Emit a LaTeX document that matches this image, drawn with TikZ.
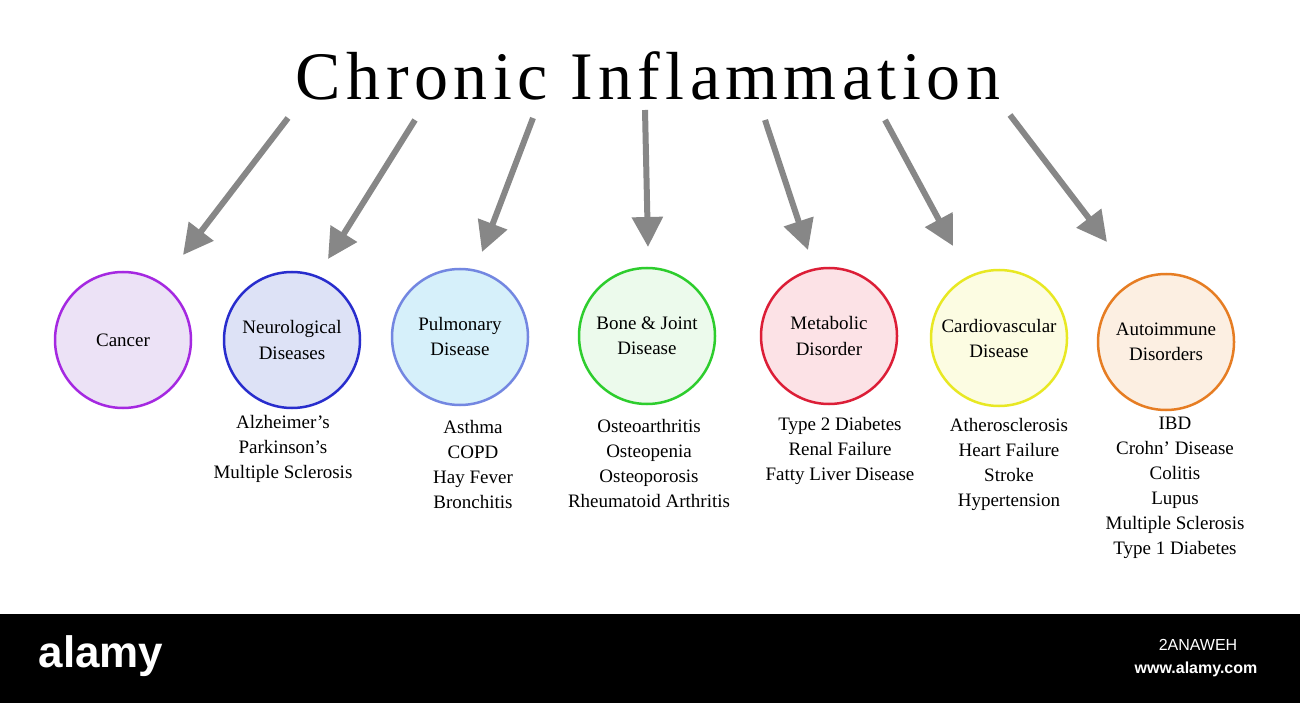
\documentclass[tikz,border=0pt]{standalone}
\usepackage{fontspec}
\setmainfont{Liberation Serif}
\newfontfamily\alsans{Liberation Sans}
\usetikzlibrary{arrows.meta}
\definecolor{cAb}{RGB}{165,40,225}\definecolor{cAf}{RGB}{236,226,246}
\definecolor{cBb}{RGB}{40,45,205}\definecolor{cBf}{RGB}{221,226,246}
\definecolor{cCb}{RGB}{115,135,225}\definecolor{cCf}{RGB}{214,240,250}
\definecolor{cDb}{RGB}{45,205,45}\definecolor{cDf}{RGB}{236,250,236}
\definecolor{cEb}{RGB}{220,30,55}\definecolor{cEf}{RGB}{252,226,230}
\definecolor{cFb}{RGB}{232,232,35}\definecolor{cFf}{RGB}{252,252,226}
\definecolor{cGb}{RGB}{230,125,35}\definecolor{cGf}{RGB}{252,239,226}
\definecolor{arrg}{RGB}{135,135,135}
\tikzset{
 circ/.style={circle,minimum size=136pt,line width=2.5pt,align=center,font=\fontsize{19}{25}\selectfont,inner sep=0pt},
 lst/.style={align=center,anchor=north,font=\fontsize{19}{25}\selectfont,inner sep=0pt},
 arr/.style={arrg,line width=6pt,-{Triangle[length=30pt,width=30pt]}}
}
\begin{document}
\begin{tikzpicture}[x=1pt,y=-1pt]
\useasboundingbox (0,0) rectangle (1300,703);
\fill[white] (0,0) rectangle (1300,703);
\node[font=\fontsize{68}{70}\selectfont\addfontfeatures{LetterSpace=8}] (title) at (648,76) {Chronic Inflammation};
\node[circ,draw=cAb,fill=cAf] (a) at (123,340) {Cancer};
\node[circ,draw=cBb,fill=cBf] (b) at (292,340) {Neurological\\Diseases};
\node[circ,draw=cCb,fill=cCf] (c) at (460,337) {Pulmonary\\Disease};
\node[circ,draw=cDb,fill=cDf] (d) at (647,336) {Bone \& Joint\\Disease};
\node[circ,draw=cEb,fill=cEf] (e) at (829,336) {Metabolic\\Disorder};
\node[circ,draw=cFb,fill=cFf] (f) at (999,338) {Cardiovascular\\Disease};
\node[circ,draw=cGb,fill=cGf] (g) at (1166,342) {Autoimmune\\Disorders};
\coordinate (s1) at (288,118); \coordinate (t1) at (183,255);
\coordinate (s2) at (415,120); \coordinate (t2) at (328,259);
\coordinate (s3) at (533,118); \coordinate (t3) at (482,252);
\coordinate (s4) at (645,110); \coordinate (t4) at (648,247);
\coordinate (s5) at (765,120); \coordinate (t5) at (808,250);
\coordinate (s6) at (885,120); \coordinate (t6) at (953,246);
\coordinate (s7) at (1010,115); \coordinate (t7) at (1107,242);
\foreach \i in {1,...,7}{\draw[arr] (s\i) -- (t\i);}
\node[lst] (lb) at (283,415) {Alzheimer's\\Parkinson's\\Multiple Sclerosis};
\node[lst] (lc) at (473,420) {Asthma\\COPD\\Hay Fever\\Bronchitis};
\node[lst] (ld) at (649,419) {Osteoarthritis\\Osteopenia\\Osteoporosis\\Rheumatoid Arthritis};
\node[lst] (le) at (840,417) {Type 2 Diabetes\\Renal Failure\\Fatty Liver Disease};
\node[lst] (lf) at (1009,418) {Atherosclerosis\\Heart Failure\\Stroke\\Hypertension};
\node[lst] (lg) at (1175,417) {IBD\\Crohn' Disease\\Colitis\\Lupus\\Multiple Sclerosis\\Type 1 Diabetes};
\fill[black] (0,614) rectangle (1300,703);
\node[white,font=\alsans\bfseries\fontsize{44}{44}\selectfont] (al) at (101,656) {alamy};
\node[white,font=\alsans\fontsize{16}{16}\selectfont] (id) at (1198,645) {2ANAWEH};
\node[white,font=\alsans\bfseries\fontsize{16}{16}\selectfont] (www) at (1196,669) {www.alamy.com};
\end{tikzpicture}
\end{document}
